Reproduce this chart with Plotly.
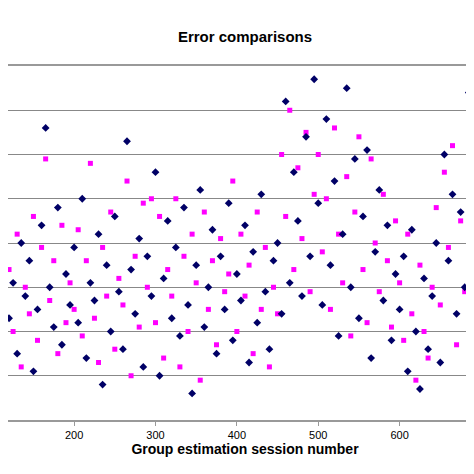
import plotly.graph_objects as go

sessions = list(range(120, 715, 5))

navyErrors = [
    2.3, 3.1, 1.5, 4.0, 2.8, 3.6, 1.1, 2.5, 4.4, 6.6, 3.0, 2.1, 4.8, 1.7, 3.3, 2.6,
    3.9, 2.2, 5.0, 1.4, 3.1, 2.7, 4.2, 0.8, 3.5, 2.0, 4.6, 2.9, 1.6, 6.3, 3.4, 2.4, 4.1, 1.2, 3.7, 2.8,
    5.6, 1.0, 3.2, 4.5, 2.3, 3.9, 1.9, 4.8, 2.6, 0.6, 3.5, 5.2, 2.1, 3.0, 4.3, 1.5, 3.7, 2.5, 4.9, 1.8,
    3.3, 2.7, 4.4, 1.3, 3.8, 2.2, 5.1, 2.9, 1.6, 3.6, 4.0, 2.4, 7.2, 3.1, 5.6, 4.5, 2.8, 6.4, 3.7, 7.7,
    4.9, 2.6, 6.8, 3.5, 5.4, 1.9, 4.2, 7.5, 3.0, 5.9, 2.3, 4.6, 6.1, 1.4, 3.8, 5.2, 2.7, 4.4, 1.8, 3.3,
    2.5, 3.7, 1.1, 4.3, 2.0, 0.7, 3.2, 1.6, 2.8, 4.0, 1.3, 6.0, 3.6, 5.1, 2.4, 4.7, 3.0, 7.4, 2.1, 4.4,
    3.5, 5.3, 2.2,
]

magentaErrors = [
    3.4, 2.0, 4.2, 1.2, 3.0, 2.4, 4.6, 1.8, 3.9, 5.9, 2.7, 3.6, 1.5, 4.4, 2.2, 3.1,
    2.5, 4.3, 1.9, 3.6, 5.8, 2.3, 1.3, 3.9, 2.8, 4.7, 1.6, 3.2, 2.6, 5.4, 1.0, 3.7, 2.1, 4.9, 3.0, 5.0,
    2.2, 4.6, 1.4, 3.4, 2.8, 5.0, 1.2, 3.7, 2.0, 4.2, 3.1, 0.9, 4.7, 2.5, 3.6, 1.7, 4.1, 2.9, 3.3, 5.4,
    2.0, 4.2, 2.8, 3.5, 1.5, 4.7, 2.5, 3.9, 1.2, 3.0, 2.4, 6.0, 4.6, 7.0, 3.4, 5.7, 4.1, 6.5, 2.9, 5.1,
    6.0, 3.8, 5.0, 2.5, 6.6, 4.2, 3.1, 5.5, 1.9, 4.7, 6.4, 3.4, 2.2, 5.9, 4.0, 2.9, 5.1, 3.6, 2.1, 4.5,
    3.1, 1.8, 4.2, 2.4, 0.9, 3.5, 2.0, 1.4, 3.0, 4.8, 2.6, 5.6, 3.9, 6.2, 1.7, 4.5, 2.9, 6.7, 3.5, 2.3,
    4.1, 2.6, 3.6,
]

fig = go.Figure()
fig.add_trace(go.Scatter(x=sessions, y=magentaErrors, mode='markers', name='magenta',
                         marker=dict(symbol='square', size=5, color='#ff00ff')))
fig.add_trace(go.Scatter(x=sessions, y=navyErrors, mode='markers', name='navy',
                         marker=dict(symbol='diamond', size=6, color='#000066')))

fig.update_layout(
    width=474, height=474,
    margin=dict(l=0, r=0, t=58, b=62),
    paper_bgcolor='white', plot_bgcolor='white',
    showlegend=False,
    font=dict(family='Liberation Sans, Arial', color='black'),
    title=dict(text='<b>Error comparisons</b>', x=0.5, xanchor='center',
               y=0.94, yanchor='middle', font=dict(size=15)),
)
fig.update_xaxes(range=[118.75, 701.25], tickvals=[200, 300, 400, 500, 600, 700],
                 showgrid=False, showline=True, linecolor='#999', linewidth=2, mirror=True,
                 ticks='outside', ticklen=4, tickcolor='#999', tickfont=dict(size=11),
                 title=dict(text='<b>Group estimation session number</b>', font=dict(size=14),
                            standoff=4))
fig.update_yaxes(range=[0, 8], dtick=1, showticklabels=False, showgrid=True,
                 gridcolor='#888', gridwidth=1, zeroline=False)

fig.write_html("out.html")
